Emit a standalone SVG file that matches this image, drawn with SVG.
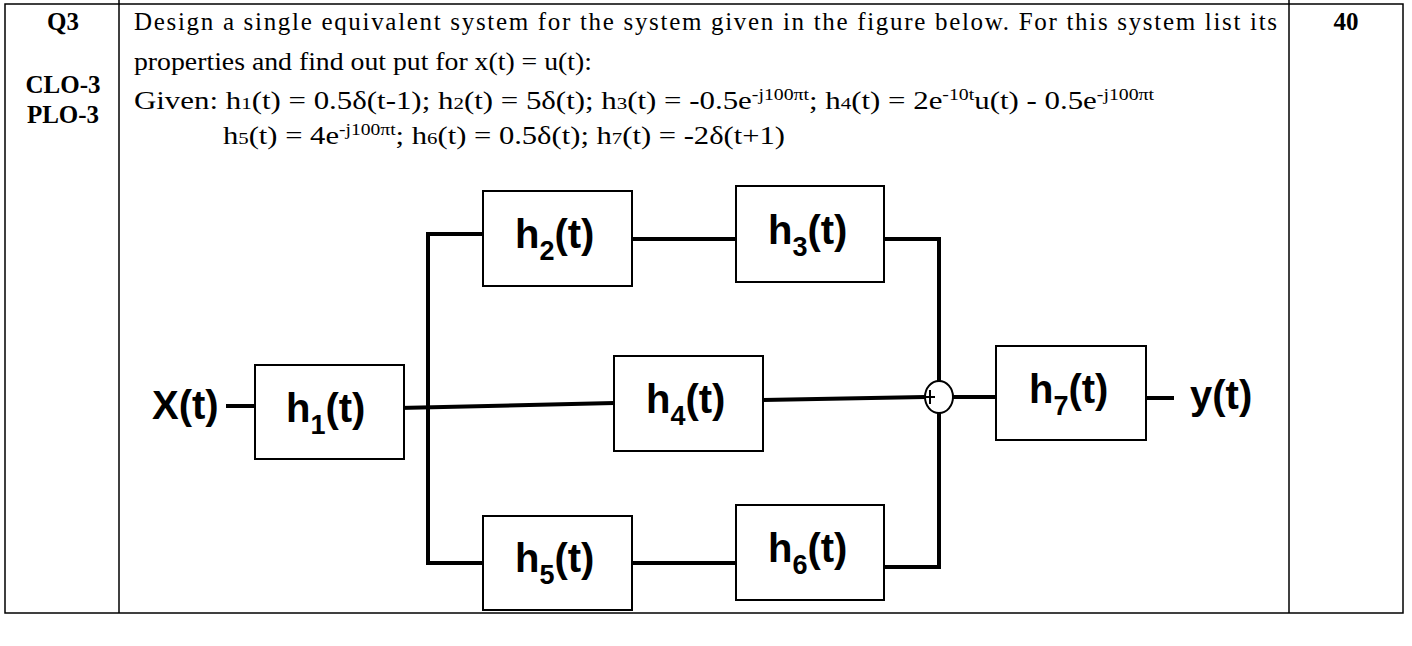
<svg xmlns="http://www.w3.org/2000/svg" width="1412" height="646" viewBox="0 0 1412 646">
<style>
.t{font-family:"Liberation Serif",serif;font-size:25px;fill:#000}
.b{font-family:"Liberation Serif",serif;font-size:25px;font-weight:bold;fill:#000}
.h{font-family:"Liberation Sans",Arial,sans-serif;font-size:40px;font-weight:bold;fill:#000}
.s{font-size:27px}
.bx{fill:#fff;stroke:#000;stroke-width:2}
.w{stroke:#000;stroke-width:4;fill:none}
</style>
<rect width="1412" height="646" fill="#fff"/>
<g id="table" stroke="#000" stroke-width="1.5" fill="none">
<rect x="5" y="4" width="1398" height="609"/>
<line x1="119" y1="4" x2="119" y2="613"/><line x1="1289" y1="4" x2="1289" y2="613"/>
<line x1="119" y1="0" x2="119" y2="4"/><line x1="1289" y1="0" x2="1289" y2="4"/>
</g>
<text class="b" x="63" y="30" text-anchor="middle">Q3</text>
<text class="b" x="63" y="93" text-anchor="middle">CLO-3</text>
<text class="b" x="63" y="123" text-anchor="middle">PLO-3</text>
<text class="b" x="1346" y="30" text-anchor="middle">40</text>
<text class="t" x="134" y="30" textLength="1143" lengthAdjust="spacing">Design a single equivalent system for the system given in the figure below. For this system list its</text>
<text class="t" x="134" y="70" textLength="458" lengthAdjust="spacingAndGlyphs">properties and find out put for x(t) = u(t):</text>
<text class="t" x="134" y="109" textLength="1020" lengthAdjust="spacingAndGlyphs">Given:  h<tspan font-size="17">1</tspan>(t) = 0.5δ(t-1);  h<tspan font-size="17">2</tspan>(t) = 5δ(t);  h<tspan font-size="17">3</tspan>(t) = -0.5e<tspan font-size="16" dy="-9">-j100πt</tspan><tspan dy="9">;  h</tspan><tspan font-size="17">4</tspan>(t) = 2e<tspan font-size="16" dy="-9">-10t</tspan><tspan dy="9">u(t) - 0.5e</tspan><tspan font-size="16" dy="-9">-j100πt</tspan></text>
<text class="t" x="223" y="144" textLength="562" lengthAdjust="spacingAndGlyphs">h<tspan font-size="17">5</tspan>(t) = 4e<tspan font-size="16" dy="-9">-j100πt</tspan><tspan dy="9">; h</tspan><tspan font-size="17">6</tspan>(t) = 0.5δ(t);  h<tspan font-size="17">7</tspan>(t) = -2δ(t+1)</text>
<g id="connectors" class="w">
<line x1="226" y1="406" x2="255" y2="406"/>
<polyline points="399,408 614,403"/>
<polyline points="763,400 925,397"/>
<polyline points="483,234 428,234 428,563 483,563"/>
<line x1="632" y1="239" x2="736" y2="239"/>
<line x1="632" y1="563" x2="736" y2="563"/>
<polyline points="884,239 939,239 939,381"/>
<polyline points="884,567 939,567 939,413"/>
<line x1="953" y1="397" x2="996" y2="397"/>
<line x1="1147" y1="398" x2="1174" y2="398"/>
</g>
<g id="sum"><ellipse cx="939" cy="397" rx="14" ry="16" fill="#fff" stroke="#000" stroke-width="2"/>
<path d="M924 397H935M930 390V404" stroke="#000" stroke-width="2"/></g>
<g id="x"><text class="h" x="152" y="419">X(t)</text></g>
<g id="h1"><rect class="bx" x="255" y="365" width="149" height="94"/><text class="h" x="286" y="422">h<tspan class="s" dy="12">1</tspan><tspan dy="-12">(t)</tspan></text></g>
<g id="h2"><rect class="bx" x="483" y="191" width="149" height="95"/><text class="h" x="515" y="248">h<tspan class="s" dy="12">2</tspan><tspan dy="-12">(t)</tspan></text></g>
<g id="h3"><rect class="bx" x="736" y="186" width="148" height="96"/><text class="h" x="768" y="244">h<tspan class="s" dy="12">3</tspan><tspan dy="-12">(t)</tspan></text></g>
<g id="h4"><rect class="bx" x="614" y="356" width="149" height="95"/><text class="h" x="646" y="413">h<tspan class="s" dy="12">4</tspan><tspan dy="-12">(t)</tspan></text></g>
<g id="h5"><rect class="bx" x="483" y="516" width="149" height="94"/><text class="h" x="515" y="572">h<tspan class="s" dy="12">5</tspan><tspan dy="-12">(t)</tspan></text></g>
<g id="h6"><rect class="bx" x="736" y="505" width="148" height="95"/><text class="h" x="768" y="562">h<tspan class="s" dy="12">6</tspan><tspan dy="-12">(t)</tspan></text></g>
<g id="h7"><rect class="bx" x="996" y="346" width="150" height="94"/><text class="h" x="1029" y="403">h<tspan class="s" dy="12">7</tspan><tspan dy="-12">(t)</tspan></text></g>
<g id="y"><text class="h" x="1190" y="409">y(t)</text></g>
</svg>
